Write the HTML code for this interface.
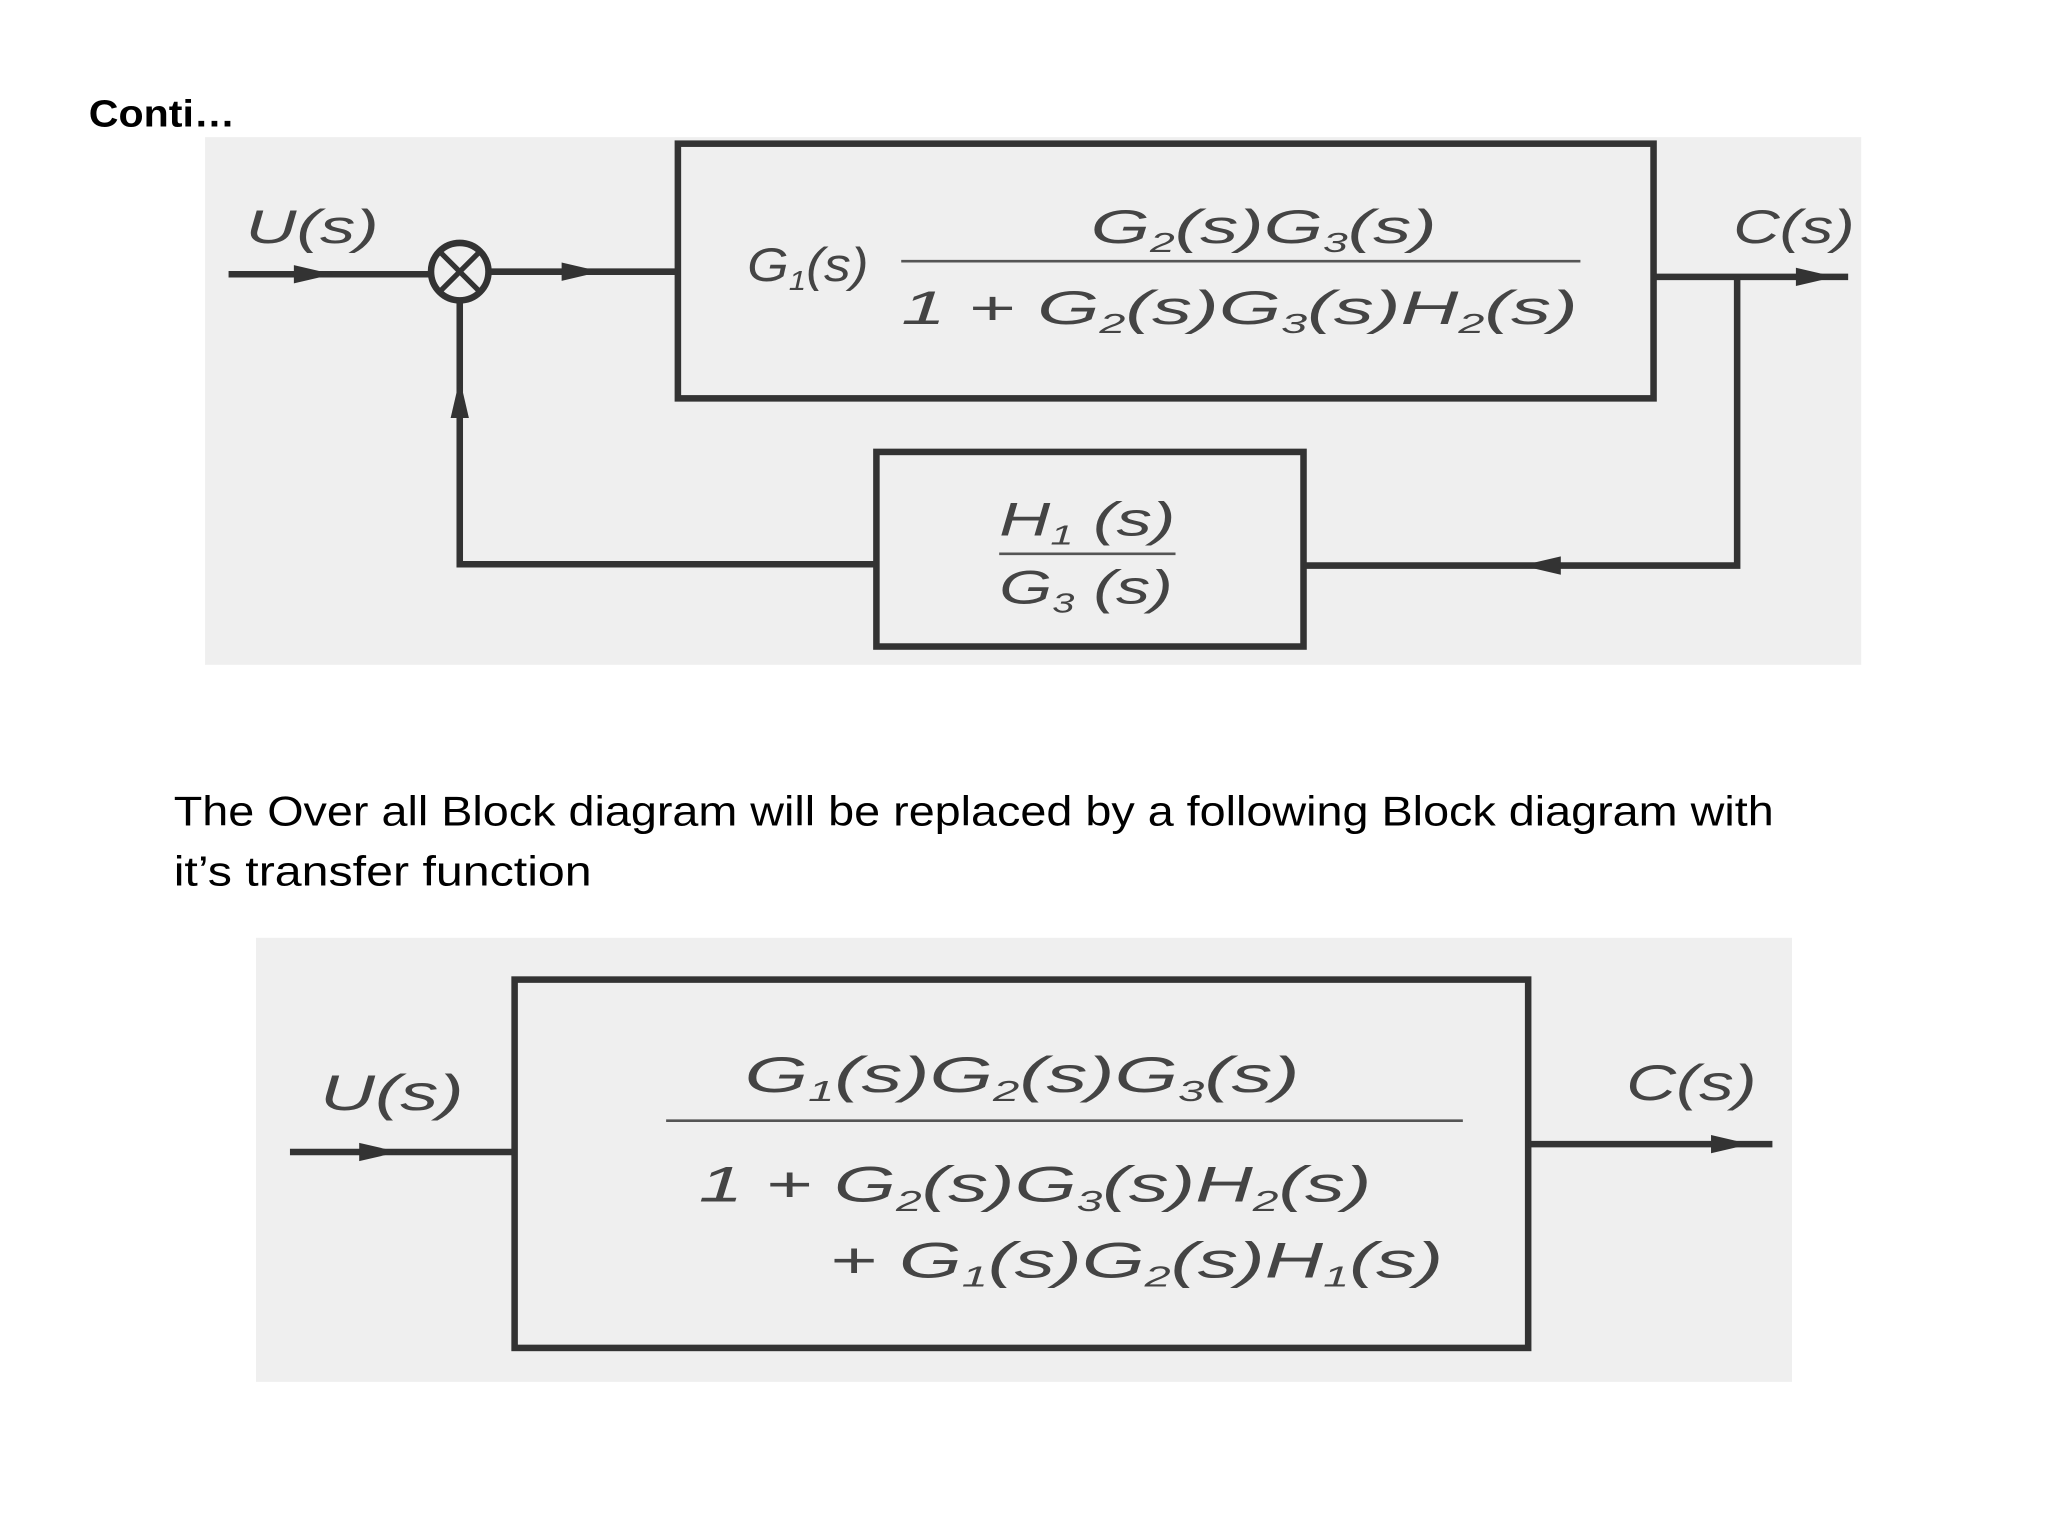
<!DOCTYPE html>
<html><head><style>body{margin:0;background:#fff}svg{display:block}</style></head><body>
<svg width="2048" height="1536" viewBox="0 0 1568 1176" xmlns="http://www.w3.org/2000/svg">
<text x="68" y="97" font-family="Liberation Sans, sans-serif" font-weight="bold" font-size="29" fill="#000" textLength="112" lengthAdjust="spacingAndGlyphs">Conti…</text>
<rect x="157" y="105" width="1268" height="404" fill="#efefef"/>
<g stroke="#333" fill="none" stroke-width="5">
<rect x="519" y="110" width="747" height="195"/>
<rect x="671" y="346" width="327" height="149"/>
<circle cx="352" cy="208" r="22"/>
<path d="M337 193L367 223M367 193L337 223" stroke-width="4"/>
<path d="M175 210H330"/><path d="M374 208H519"/>
<path d="M1266 212H1415"/><path d="M1330 212V433H998"/>
<path d="M671 432H352V230"/>
</g>
<g fill="#333">
<path d="M225 203L255 210L225 217z"/><path d="M430 201L460 208L430 215z"/>
<path d="M1375 205L1405 212L1375 219z"/><path d="M1195 426L1165 433L1195 440z"/>
<path d="M345 320L352 290L359 320z"/>
</g>
<g font-family="Liberation Sans, sans-serif" font-style="italic" fill="#444" font-size="36" lengthAdjust="spacingAndGlyphs">
<text x="188" y="186" textLength="102" lengthAdjust="spacingAndGlyphs">U(s)</text>
<text x="1327" y="186" textLength="93" lengthAdjust="spacingAndGlyphs">C(s)</text>
<text x="572" y="215" textLength="93" lengthAdjust="spacingAndGlyphs">G<tspan font-size="21" dy="7">1</tspan><tspan dy="-7">(s)</tspan></text>
<text x="835" y="186" textLength="265" lengthAdjust="spacingAndGlyphs">G<tspan font-size="21" dy="7">2</tspan><tspan dy="-7">(s)G</tspan><tspan font-size="21" dy="7">3</tspan><tspan dy="-7">(s)</tspan></text>
<text x="690" y="248" textLength="518" lengthAdjust="spacingAndGlyphs">1 + G<tspan font-size="21" dy="7">2</tspan><tspan dy="-7">(s)G</tspan><tspan font-size="21" dy="7">3</tspan><tspan dy="-7">(s)H</tspan><tspan font-size="21" dy="7">2</tspan><tspan dy="-7">(s)</tspan></text>
<text x="765" y="410" textLength="135" lengthAdjust="spacingAndGlyphs">H<tspan font-size="21" dy="7">1</tspan><tspan dy="-7"> (s)</tspan></text>
<text x="765" y="462" textLength="133" lengthAdjust="spacingAndGlyphs">G<tspan font-size="21" dy="7">3</tspan><tspan dy="-7"> (s)</tspan></text>
</g>
<path d="M690 200H1210M765 424H900" stroke="#555" stroke-width="2"/>
<g font-family="Liberation Sans, sans-serif" font-size="32" fill="#000">
<text x="133" y="632" textLength="1225" lengthAdjust="spacingAndGlyphs">The Over all Block diagram will be replaced by a following Block diagram with</text>
<text x="133" y="678" textLength="320" lengthAdjust="spacingAndGlyphs">it’s transfer function</text>
</g>
<rect x="196" y="718" width="1176" height="340" fill="#efefef"/>
<g stroke="#333" fill="none" stroke-width="5">
<rect x="394" y="750" width="776" height="282"/>
<path d="M222 882H394"/><path d="M1170 876H1357"/>
</g>
<path d="M510 858H1120" stroke="#555" stroke-width="2"/>
<g fill="#333"><path d="M275 875L305 882L275 889z"/><path d="M1310 869L1340 876L1310 883z"/></g>
<g font-family="Liberation Sans, sans-serif" font-style="italic" fill="#444" font-size="38">
<text x="245" y="850" textLength="110" lengthAdjust="spacingAndGlyphs">U(s)</text>
<text x="1245" y="842" textLength="100" lengthAdjust="spacingAndGlyphs">C(s)</text>
<text x="570" y="836" textLength="425" lengthAdjust="spacingAndGlyphs">G<tspan font-size="22" dy="7">1</tspan><tspan dy="-7">(s)G</tspan><tspan font-size="22" dy="7">2</tspan><tspan dy="-7">(s)G</tspan><tspan font-size="22" dy="7">3</tspan><tspan dy="-7">(s)</tspan></text>
<text x="535" y="920" textLength="515" lengthAdjust="spacingAndGlyphs">1 + G<tspan font-size="22" dy="7">2</tspan><tspan dy="-7">(s)G</tspan><tspan font-size="22" dy="7">3</tspan><tspan dy="-7">(s)H</tspan><tspan font-size="22" dy="7">2</tspan><tspan dy="-7">(s)</tspan></text>
<text x="635" y="978" textLength="470" lengthAdjust="spacingAndGlyphs">+ G<tspan font-size="22" dy="7">1</tspan><tspan dy="-7">(s)G</tspan><tspan font-size="22" dy="7">2</tspan><tspan dy="-7">(s)H</tspan><tspan font-size="22" dy="7">1</tspan><tspan dy="-7">(s)</tspan></text>
</g>
</svg>
</body></html>
